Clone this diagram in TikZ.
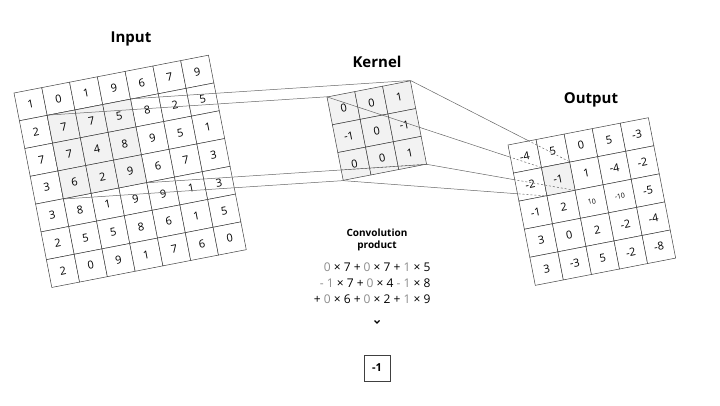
\documentclass[tikz,border=0pt]{standalone}
\usepackage{fontspec}
\setmainfont{Open Sans}
\usetikzlibrary{backgrounds}
\definecolor{hl}{gray}{0.95}
\definecolor{cf}{gray}{0.55}
\tikzset{
  cell/.style={draw=black!75, line width=0.5pt, minimum size=#1, inner sep=0pt, font=\fontsize{11}{11}\selectfont, fill=white},
  conn/.style={draw=black!60, line width=0.5pt},
  dconn/.style={draw=black!60, line width=0.5pt, dash pattern=on 2pt off 2pt},
  title/.style={font=\bfseries\fontsize{15}{15}\selectfont},
}
\begin{document}
\begin{tikzpicture}[x=1pt,y=1pt]
\useasboundingbox (0,0) rectangle (720,405);
% Input
\begin{scope}[shift={(14,312)}, rotate=11, transform shape]
\foreach \row [count=\i] in {{1,0,1,9,6,7,9},{2,7,7,5,8,2,5},{7,7,4,8,9,5,1},{3,6,2,9,6,7,3},{3,8,1,9,9,1,3},{2,5,5,8,6,1,5},{2,0,9,1,7,6,0}}
  \foreach \v [count=\j] in \row
    \node[cell=28.3pt] (in-\i-\j) at ({(\j-0.5)*28.3},{-(\i-0.5)*28.3}) {\v};
\foreach \i in {2,3,4} \foreach \j in {2,3,4}
  \node[cell=28.3pt, fill=hl] at (in-\i-\j) {\ifcase\numexpr(\i-2)*3+\j-2\relax 7\or 7\or 5\or 7\or 4\or 8\or 6\or 2\or 9\fi};
\end{scope}
% Kernel
\begin{scope}[shift={(327,308)}, rotate=11, transform shape]
\foreach \row [count=\i] in {{0,0,1},{-1,0,-1},{0,0,1}}
  \foreach \v [count=\j] in \row
    \node[cell=28.3pt, fill=hl] (k-\i-\j) at ({(\j-0.5)*28.3},{-(\i-0.5)*28.3}) {\v};
\end{scope}
% Output
\begin{scope}[shift={(508,260)}, rotate=11, transform shape]
\foreach \row [count=\i] in {{-4,5,0,5,-3},{-2,-1,1,-4,-2},{-1,2,\scriptsize 10,\scriptsize -10,-5},{3,0,2,-2,-4},{3,-3,5,-2,-8}}
  \foreach \v [count=\j] in \row
    \node[cell=28.6pt] (out-\i-\j) at ({(\j-0.5)*28.6},{-(\i-0.5)*28.6}) {\v};
\node[cell=28.6pt, fill=hl] at (out-2-2) {-1};
\end{scope}
% connectors
\begin{scope}[on background layer]
\draw[conn] (k-1-1.north west) -- (out-2-2.north west);
\draw[conn] (k-1-3.north east) -- (out-2-2.north east);
\draw[conn] (k-3-1.south west) -- (out-2-2.south west);
\draw[conn] (k-3-3.south east) -- (out-2-2.south east);
\end{scope}
\begin{scope}
\clip (out-1-1.north west) -- (out-1-5.north east) -- (out-5-5.south east) -- (out-5-1.south west) -- cycle;
\draw[dconn] (k-1-1.north west) -- (out-2-2.north west);
\draw[dconn] (k-1-3.north east) -- (out-2-2.north east);
\draw[dconn] (k-3-1.south west) -- (out-2-2.south west);
\draw[dconn] (k-3-3.south east) -- (out-2-2.south east);
\end{scope}
\begin{scope}
\clip (k-1-1.north west) -- (k-1-3.north east) -- (k-3-3.south east) -- (k-3-1.south west) -- cycle;
\draw[dconn] (k-3-3.south east) -- (in-4-4.south east);
\draw[conn] (k-1-1.north west) -- (out-2-2.north west);
\end{scope}
\draw[conn] (k-1-1.north west) -- (in-2-2.north west);
\draw[conn] (k-1-3.north east) -- (in-2-4.north east);
\draw[conn] (k-3-1.south west) -- (in-4-2.south west);
\draw[conn] (k-3-3.south east) -- (in-4-4.south east);
% titles
\node[title] (tin) at (131,366) {Input};
\node[title] (tk) at (377,343) {Kernel};
\node[title] (tout) at (591,305) {Output};
% convolution product
\node[font=\bfseries\fontsize{10}{12}\selectfont, align=center] (cp) at (377,165) {Convolution\\product};
\node[font=\fontsize{12}{16}\selectfont, align=right, anchor=north east] (eq) at (434,146)
 {\textcolor{cf}{0} × 7 + \textcolor{cf}{0} × 7 + \textcolor{cf}{1} × 5\\
  \textcolor{cf}{- 1} × 7 + \textcolor{cf}{0} × 4 \textcolor{cf}{- 1} × 8\\
  + \textcolor{cf}{0} × 6 + \textcolor{cf}{0} × 2 + \textcolor{cf}{1} × 9};
\draw[line width=1.2pt] (374.5,84.5) -- (377,82) -- (379.5,84.5);
\node[draw=black!75, fill=white, line width=0.6pt, minimum size=26pt, inner sep=0pt, font=\bfseries\fontsize{11}{11}\selectfont] (res) at (377,37) {-1};
\end{tikzpicture}
\end{document}
